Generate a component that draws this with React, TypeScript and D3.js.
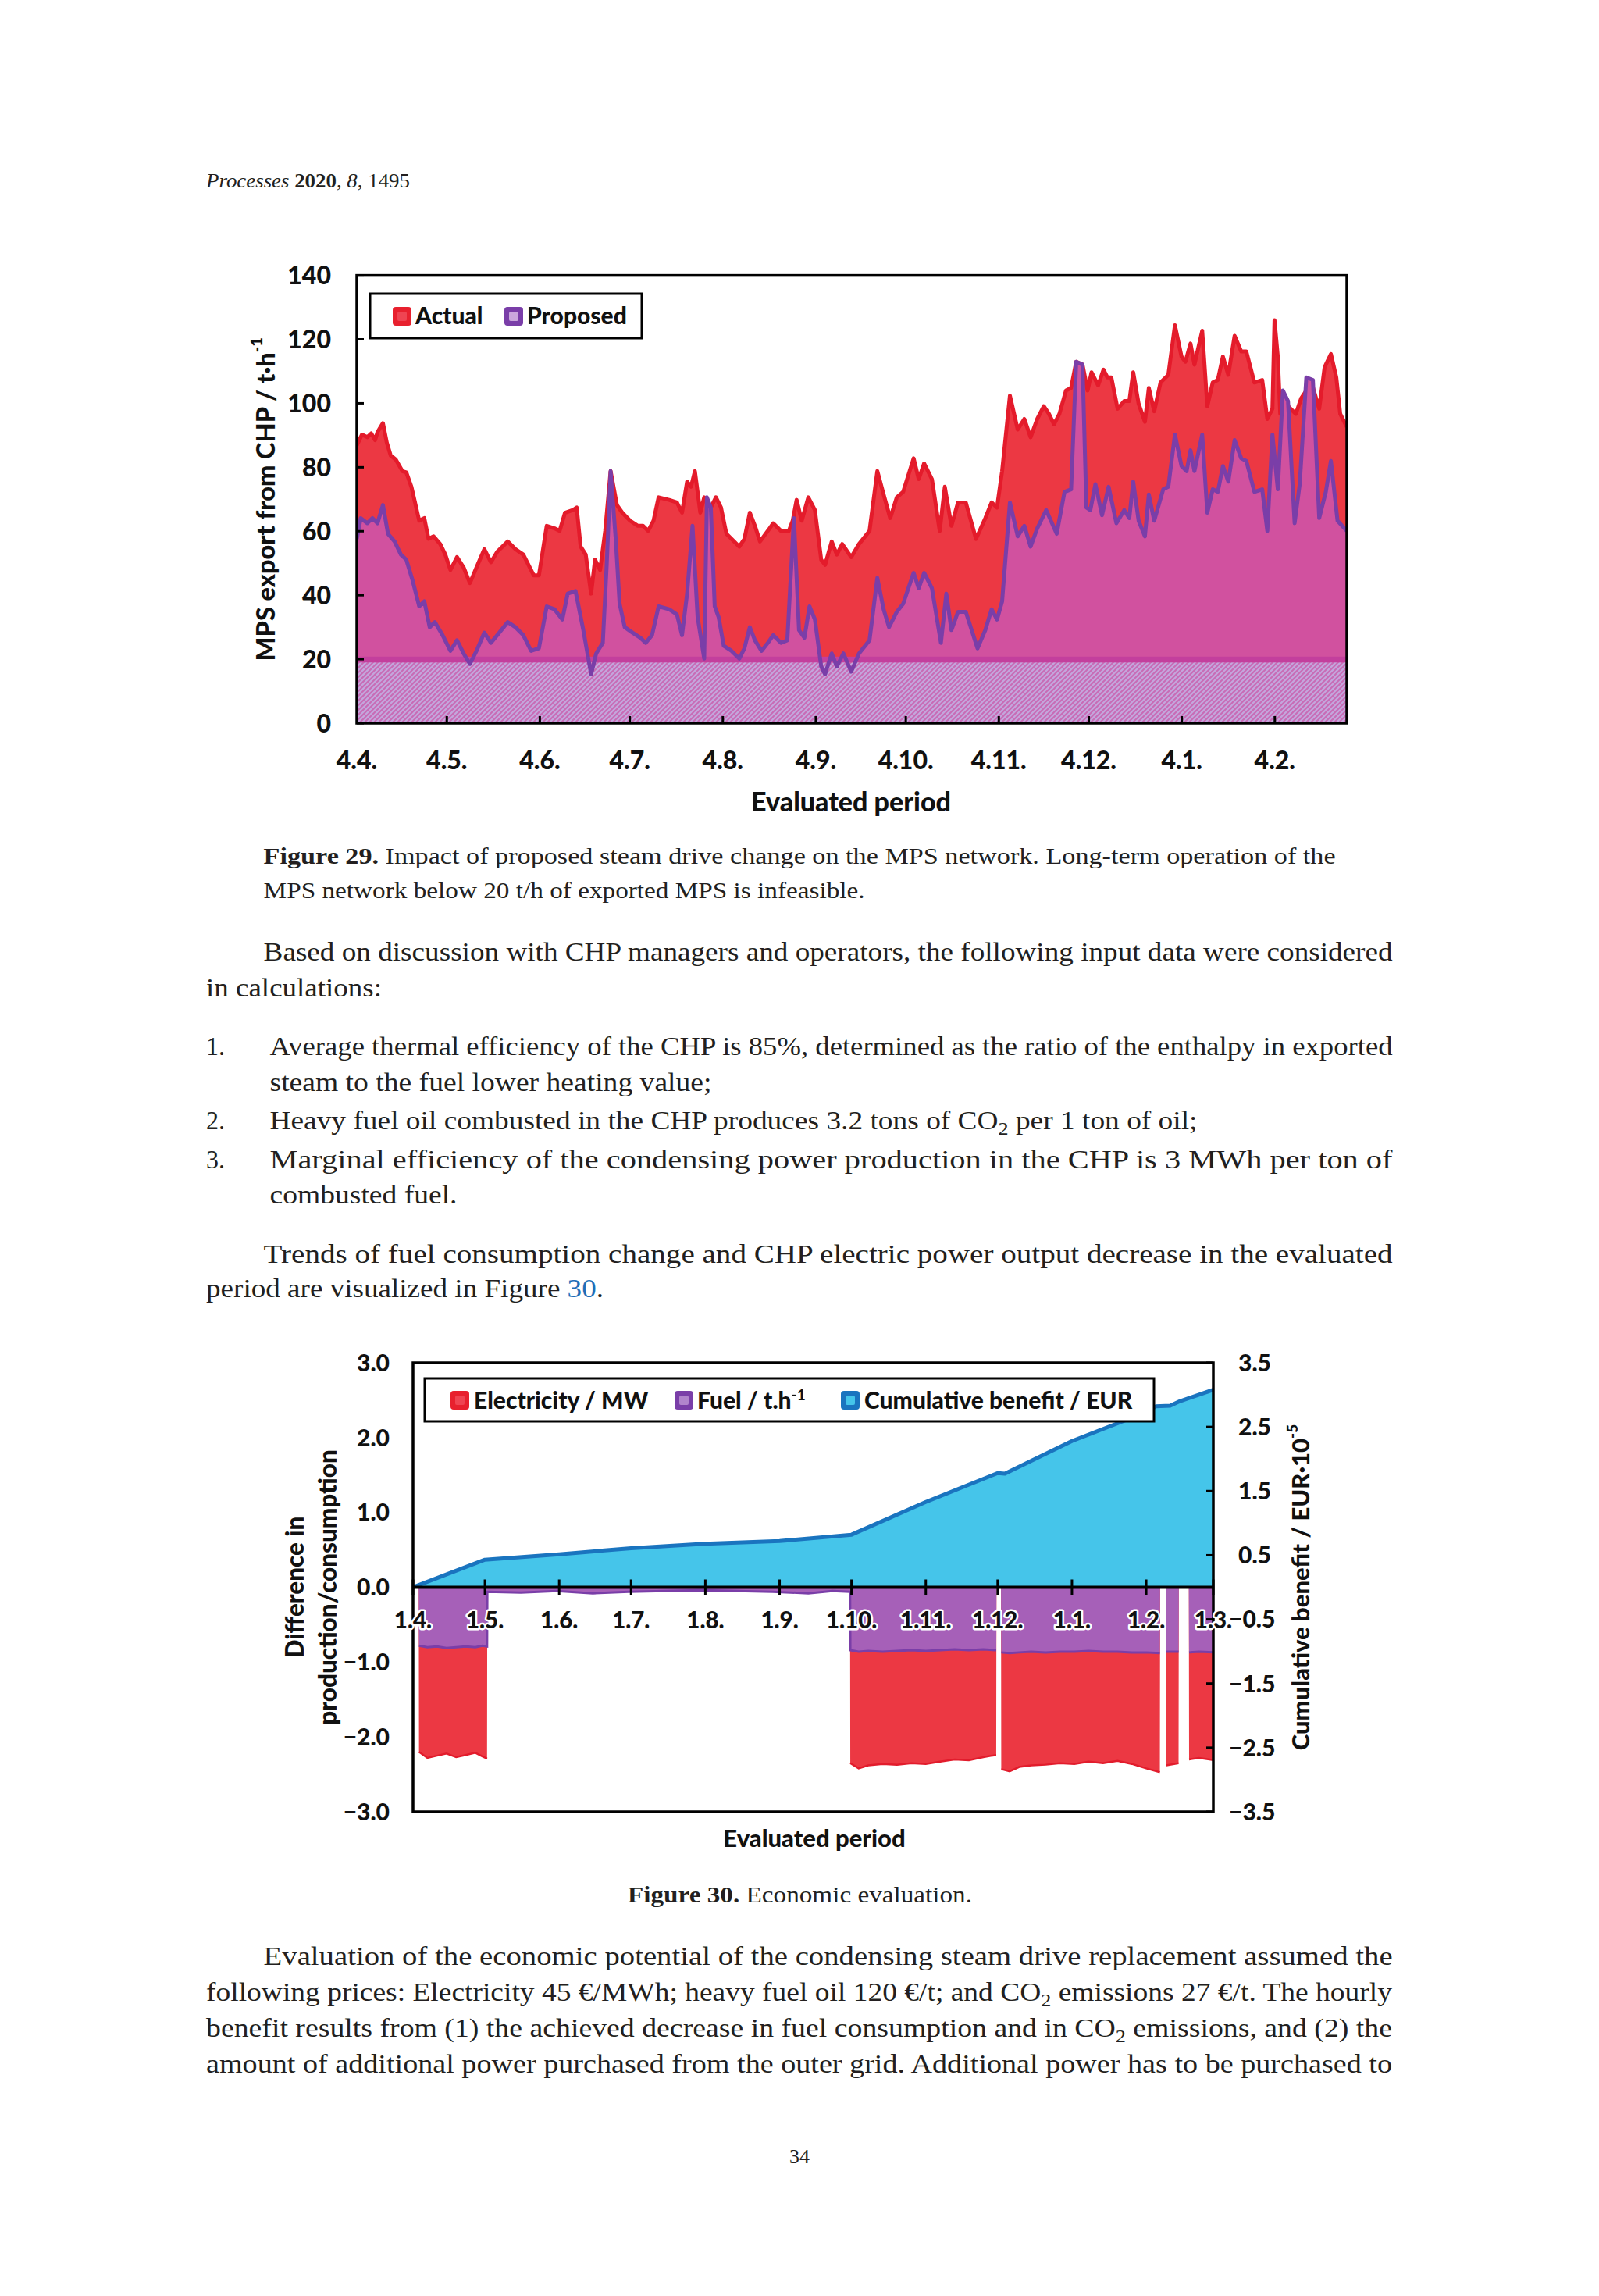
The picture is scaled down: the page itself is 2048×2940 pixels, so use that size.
import React from 'react';
import * as d3 from 'd3';

// ---------------- Figure 29 data ----------------
const fig29Start = new Date(2018, 3, 4);
const fig29SpanDays = 330;
const fig29YTicks = [0, 20, 40, 60, 80, 100, 120, 140];
const fig29XTickLabels = ['4.4.', '4.5.', '4.6.', '4.7.', '4.8.', '4.9.', '4.10.', '4.11.', '4.12.', '4.1.', '4.2.'];
const infeasibleLimit = 20;

// [day since 4.4., t/h]
const actualSeries: [number, number][] = [
  [0, 86.9], [1.7, 90.2], [3.5, 89.4], [4.8, 90.6], [6.1, 88.5], [6.9, 91], [8.7, 93.8], [10.0, 87.7], [11.3, 83.7], [13.0, 82.4],
  [15.2, 78.8], [16.5, 78.4], [18.2, 73.9], [20.8, 63.3], [22.5, 64.1], [23.9, 57.6], [25.6, 58.4], [27.8, 56], [29.5, 52.7], [31.2, 47.9],
  [33.4, 51.9], [35.6, 48.7], [37.7, 43.8], [39.9, 48.7], [42.5, 54.4], [44.7, 50.3], [46.8, 53.6], [50.3, 56.8], [52.9, 54.4], [55.5, 52.7],
  [59.0, 46.2], [60.7, 46.2], [63.3, 61.7], [65.9, 60.9], [67.6, 60.1], [69.4, 65.8], [72.0, 66.6], [73.3, 67.4], [74.6, 55.2], [76.3, 52.7],
  [78.1, 40.5], [79.4, 51.1], [81.1, 47.9], [82.8, 60.1], [84.6, 78.8], [86.7, 68.2], [88.5, 65.8], [91.1, 63.3], [93.7, 61.7], [95.4, 61.7],
  [97.1, 60.1], [98.9, 63.3], [100.6, 70.6], [104.1, 69.8], [106.7, 69], [108.4, 65.8], [110.1, 75.5], [111.4, 73.9], [112.7, 78.8], [114.5, 65.8],
  [115.8, 70.6], [118.0, 67.4], [119.7, 70.6], [121.4, 67.4], [123.2, 59.2], [124.9, 57.6], [127.5, 55.2], [129.2, 57.6], [131.0, 65.8], [132.7, 61.7],
  [134.4, 56.8], [137.0, 60.1], [138.8, 62.5], [141.4, 60.1], [144.0, 60.1], [145.3, 63.3], [146.6, 69.8], [148.3, 63.3], [150.5, 70.6], [152.7, 66.6],
  [154.8, 51.1], [156.1, 49.5], [158.3, 56.8], [160.0, 52.7], [161.8, 56], [164.8, 51.9], [167.4, 56], [170.9, 60.1], [173.5, 78.8], [175.6, 71.5],
  [177.8, 64.1], [180.0, 70.6], [182.1, 72.3], [185.6, 82.8], [187.3, 76.3], [189.1, 81.2], [191.7, 76.3], [194.3, 60.1], [196.0, 73.9], [198.2, 61.7],
  [200.4, 69], [203.0, 69], [206.4, 57.6], [209.5, 64.1], [211.6, 69], [213.4, 67.4], [215.1, 78.8], [217.7, 102.4], [220.3, 91.8], [222.5, 95.1],
  [224.6, 89.4], [226.8, 95.1], [229.0, 99.1], [230.7, 96.7], [232.4, 93.4], [234.2, 96.7], [236.4, 104], [238.1, 104.8], [239.8, 113], [241.9, 112.1],
  [243.6, 104], [244.9, 109.7], [247.1, 105.6], [248.9, 110.5], [250.2, 108.1], [251.5, 108.1], [253.6, 98.3], [255.8, 100.7], [257.5, 100.7], [258.8, 109.7],
  [260.6, 99.9], [262.7, 94.2], [264.0, 104.8], [265.8, 97.5], [267.9, 106.5], [270.5, 108.9], [272.7, 124.4], [274.9, 114.6], [276.2, 113], [277.9, 118.7],
  [279.2, 112.1], [281.8, 122.7], [283.5, 99.1], [285.3, 106.5], [287.0, 107.3], [288.7, 114.6], [290.5, 108.9], [292.6, 121.1], [294.8, 116.2], [296.5, 116.2],
  [299.2, 106.5], [301.8, 107.3], [303.5, 95.1], [305.2, 98.3], [305.9, 126], [307.0, 114.6], [307.8, 96.7], [310.4, 99.1], [313.0, 96.7], [314.8, 101.6],
  [316.5, 104], [318.2, 106.5], [320.8, 98.3], [322.6, 111.3], [324.7, 115.4], [326.5, 108.1], [327.8, 96.7], [330.0, 92.6],
];

const proposedSeries: [number, number][] = [
  [0, 57.6], [1.3, 64.1], [3.5, 62.5], [5.2, 64.1], [6.9, 62.5], [8.7, 68.2], [10.4, 59.2], [12.6, 56.8], [14.7, 52.7], [16.5, 51.1],
  [18.6, 44.6], [20.8, 36.5], [22.5, 38.1], [24.3, 30], [26.0, 31.6], [28.6, 27.5], [31.2, 22.6], [33.4, 25.9], [35.6, 21.8], [37.7, 18.5],
  [39.9, 22.6], [42.5, 28.3], [44.7, 25.1], [46.8, 27.5], [50.3, 31.6], [52.9, 30], [55.5, 27.5], [58.1, 22.6], [60.7, 23.4], [63.3, 36.5],
  [65.9, 35.6], [68.5, 32.4], [70.3, 40.5], [72.9, 41.3], [75.5, 29.1], [78.1, 15.3], [79.8, 21.8], [82.0, 25.1], [83.3, 49.5], [84.6, 78.8],
  [86.3, 57.6], [87.6, 37.3], [89.3, 30], [91.9, 28.3], [94.5, 26.7], [96.3, 25.1], [98.4, 27.5], [100.6, 36.5], [104.1, 35.6], [106.7, 34],
  [108.4, 27.5], [110.1, 40.5], [111.9, 61.7], [113.6, 33.2], [115.8, 20.2], [116.7, 70.6], [118.0, 67.4], [119.3, 36.5], [120.6, 33.2], [122.3, 24.2],
  [124.9, 22.6], [127.5, 20.2], [129.2, 23.4], [131.0, 30], [132.7, 25.9], [134.9, 22.6], [137.0, 25.1], [138.8, 27.5], [141.4, 25.1], [143.5, 25.9],
  [145.7, 64.1], [147.4, 29.1], [149.2, 26.7], [150.9, 36.5], [152.7, 32.4], [154.8, 17.7], [156.1, 15.3], [158.3, 21.8], [160.0, 17.7], [162.2, 21.8],
  [164.8, 16.1], [167.4, 21.8], [170.9, 25.9], [173.5, 45.4], [175.6, 35.6], [177.4, 30], [180.0, 34.8], [182.1, 37.3], [185.6, 47], [187.3, 42.2],
  [189.1, 47], [191.7, 42.2], [194.7, 25.1], [196.5, 40.5], [198.2, 29.1], [200.4, 34.8], [203.0, 34.8], [206.9, 23.4], [209.5, 29.1], [211.6, 35.6],
  [213.4, 32.4], [215.1, 38.1], [217.7, 69], [220.3, 58.4], [222.5, 61.7], [224.6, 55.2], [226.8, 60.9], [229.8, 66.6], [233.3, 59.2], [235.9, 72.3],
  [238.1, 73.1], [239.8, 113], [241.9, 112.1], [243.2, 67.4], [244.5, 66.6], [246.2, 74.7], [248.4, 65], [250.6, 73.9], [253.2, 62.5], [255.8, 66.6],
  [257.5, 64.1], [258.8, 75.5], [260.6, 63.3], [262.7, 58.4], [264.0, 71.5], [265.8, 63.3], [268.8, 73.1], [270.5, 73.9], [272.7, 90.2], [274.9, 80.4],
  [276.6, 78.8], [277.9, 85.3], [279.2, 78.8], [281.8, 90.2], [283.5, 65.8], [285.3, 73.1], [287.0, 72.3], [288.7, 80.4], [290.5, 75.5], [292.6, 88.5],
  [294.8, 82.8], [296.5, 82], [299.2, 72.3], [301.8, 73.1], [303.5, 60.1], [305.2, 90.2], [307.0, 73.1], [308.7, 104], [310.4, 100.7], [312.6, 62.5],
  [314.3, 74.7], [316.5, 108.1], [318.7, 107.3], [320.8, 64.1], [323.0, 72.3], [324.7, 82], [326.9, 63.3], [330.0, 60.1],
];

// ---------------- Figure 30 data ----------------
const fig30Start = new Date(2018, 3, 1);
const fig30SpanDays = 334;
const fig30XTickLabels = ['1.4.', '1.5.', '1.6.', '1.7.', '1.8.', '1.9.', '1.10.', '1.11.', '1.12.', '1.1.', '1.2.', '1.3.'];
const fig30LeftTicks = [3, 2, 1, 0, -1, -2, -3];
const fig30RightTicks = [3.5, 2.5, 1.5, 0.5, -0.5, -1.5, -2.5, -3.5];

// [day since 1.4., MW]
const electricitySeries: [number, number][] = [
  [0, 0], [2.4, 0], [2.5, -2.2], [6, -2.28], [10, -2.25], [14, -2.22], [18, -2.27], [22, -2.24], [26, -2.21], [29, -2.26], [30.9, -2.29], [31, 0],
  [182.4, 0], [182.5, -2.35], [186, -2.42], [190, -2.38], [196, -2.36], [202, -2.37], [208, -2.35], [214, -2.36], [220, -2.33], [226, -2.3],
  [232, -2.31], [238, -2.27], [243.4, -2.24], [243.5, 0], [245.4, 0], [245.5, -2.43], [249, -2.46], [253, -2.4], [258, -2.38], [264, -2.37],
  [270, -2.35], [276, -2.36], [282, -2.33], [288, -2.35], [294, -2.32], [300, -2.36], [306, -2.42], [311.7, -2.47], [311.8, 0], [314.3, 0],
  [314.4, -2.38], [319.5, -2.35], [319.6, 0], [323.8, 0], [323.9, -2.3], [328, -2.28], [334, -2.31],
];
// [day since 1.4., t/h]
const fuelSeries: [number, number][] = [
  [0, 0], [2.4, 0], [2.5, -0.78], [6, -0.8], [10, -0.79], [14, -0.81], [18, -0.8], [22, -0.79], [26, -0.8], [29, -0.78], [30.9, -0.79],
  [31, -0.06], [45, -0.07], [60, -0.05], [75, -0.08], [90, -0.06], [105, -0.05], [120, -0.04], [135, -0.05], [150, -0.06], [165, -0.08],
  [175, -0.05], [182.4, -0.06], [182.5, -0.84], [186, -0.86], [190, -0.85], [196, -0.86], [202, -0.85], [208, -0.84], [214, -0.85],
  [220, -0.84], [226, -0.83], [232, -0.84], [238, -0.83], [243.4, -0.84], [243.5, 0], [245.4, 0], [245.5, -0.87], [249, -0.88], [253, -0.87],
  [258, -0.86], [264, -0.87], [270, -0.86], [276, -0.86], [282, -0.85], [288, -0.86], [294, -0.86], [300, -0.87], [306, -0.87], [311.7, -0.88],
  [311.8, 0], [314.3, 0], [314.4, -0.86], [319.5, -0.86], [319.6, 0], [323.8, 0], [323.9, -0.87], [328, -0.86], [334, -0.87],
];
// [day since 1.4., EUR x 1e5]
const cumulativeSeries: [number, number][] = [
  [0, 0], [30, 0.43], [61, 0.515], [91, 0.61], [122, 0.68], [153, 0.72], [183, 0.82], [214, 1.33], [244, 1.78], [247, 1.77],
  [275, 2.28], [306, 2.73], [310, 2.82], [316, 2.83], [320, 2.9], [334, 3.08],
];

const dayToDate = (start: Date, d: number) => new Date(start.getTime() + d * 86400000);

const SERIF = "'Liberation Serif', 'DejaVu Serif', serif";
const SANS = "Lato, 'Open Sans', sans-serif";
const INK = '#231f20';
const CW = 900;

function TLine({ x, y, w, size = 33, anchor = 'start', children }: any) {
  return (
    <text x={x} y={y} fontFamily={SERIF} fontSize={size} fill={INK} textAnchor={anchor}
      textLength={w} lengthAdjust="spacingAndGlyphs">{children}</text>
  );
}

export default function App() {
  // ---- fig 29 scales
  const x29 = d3.scaleTime().domain([fig29Start, dayToDate(fig29Start, fig29SpanDays)]).range([457, 1725]);
  const y29 = d3.scaleLinear().domain([0, 140]).range([926, 352.6]);
  const fx29 = (d: [number, number]) => x29(dayToDate(fig29Start, d[0]));
  const area29 = d3.area<[number, number]>().x(fx29).y0(y29(0)).y1((d) => y29(d[1]));
  const line29 = d3.line<[number, number]>().x(fx29).y((d) => y29(d[1]));
  const fig29TickDates = fig29XTickLabels.map((_, i) => new Date(2018, 3 + i, 4));

  // ---- fig 30 scales
  const x30 = d3.scaleTime().domain([fig30Start, dayToDate(fig30Start, fig30SpanDays)]).range([529, 1554]);
  const yL = d3.scaleLinear().domain([-3, 3]).range([2320, 1745]);
  const yR = d3.scaleLinear().domain([-3.5, 3.5]).range([2320, 1745]);
  const fx30 = (d: [number, number]) => x30(dayToDate(fig30Start, d[0]));
  const areaL = d3.area<[number, number]>().x(fx30).y0(yL(0)).y1((d) => yL(d[1]));
  const lineL = d3.line<[number, number]>().x(fx30).y((d) => yL(d[1])).defined((d) => d[1] !== 0);
  const areaR = d3.area<[number, number]>().x(fx30).y0(yR(0)).y1((d) => yR(d[1]));
  const lineR = d3.line<[number, number]>().x(fx30).y((d) => yR(d[1]));
  const fig30TickDates = fig30XTickLabels.map((_, i) => new Date(2018, 3 + i, 1));

  const p29 = { l: 457, r: 1725, t: 352.6, b: 926 };
  const p30 = { l: 529, r: 1554, t: 1745, b: 2320 };
  const fmt = (v: number) => d3.format('.1f')(v).replace('-', '\u2212');

  return (
    <svg width={2048} height={2940} viewBox="0 0 2048 2940"
      style={{ position: 'absolute', left: 0, top: 0, background: '#ffffff' }}>
      <defs>
        <pattern id="hatch" width="6" height="6" patternUnits="userSpaceOnUse">
          <rect width="6" height="6" fill="#c4a6dd" />
          <path d="M-1,1 L1,-1 M0,6 L6,0 M5,7 L7,5" stroke="#c86bb5" strokeWidth="2" />
        </pattern>
        <clipPath id="clip29"><rect x={p29.l} y={p29.t} width={p29.r - p29.l} height={p29.b - p29.t} /></clipPath>
        <clipPath id="clip30"><rect x={p30.l} y={p30.t} width={p30.r - p30.l} height={p30.b - p30.t} /></clipPath>
      </defs>
      <rect x={0} y={0} width={2048} height={2940} fill="#ffffff" />

      {/* Header */}
      <text x={264} y={240} fontFamily={SERIF} fontSize={26} fill={INK} textLength={261} lengthAdjust="spacingAndGlyphs">
        <tspan fontStyle="italic">Processes</tspan> <tspan fontWeight="bold">2020</tspan>, <tspan fontStyle="italic">8</tspan>, 1495
      </text>

      {/* ================= Figure 29 ================= */}
      <g clipPath="url(#clip29)">
        <path d={area29(actualSeries) || ''} fill="#ec3843" />
        <path d={line29(actualSeries) || ''} fill="none" stroke="#e41b2b" strokeWidth={5} strokeLinejoin="round" />
        <path d={area29(proposedSeries) || ''} fill="#d1519f" />
        <rect x={p29.l} y={y29(19)} width={p29.r - p29.l} height={y29(0) - y29(19)} fill="url(#hatch)" />
        <rect x={p29.l} y={y29(infeasibleLimit + 0.8)} width={p29.r - p29.l} height={y29(19) - y29(infeasibleLimit + 0.8)} fill="#c33f9d" />
        <path d={line29(proposedSeries) || ''} fill="none" stroke="#7a3ea8" strokeWidth={5} strokeLinejoin="round" />
      </g>
      {fig29YTicks.map((v) => (
        <line key={'yt' + v} x1={p29.l} x2={p29.l + 9} y1={y29(v)} y2={y29(v)} stroke="#000" strokeWidth={3} />
      ))}
      {fig29TickDates.slice(1).map((d, i) => (
        <line key={'xt' + i} x1={x29(d)} x2={x29(d)} y1={p29.b} y2={p29.b - 9} stroke="#000" strokeWidth={3} />
      ))}
      <rect x={p29.l} y={p29.t} width={p29.r - p29.l} height={p29.b - p29.t} fill="none" stroke="#000" strokeWidth={3.5} />
      {fig29YTicks.map((v) => (
        <text key={'yl' + v} x={424} y={y29(v)} dy="0.36em" textAnchor="end" fontFamily={SANS} fontWeight={CW} fontSize={32} fill="#111">{v}</text>
      ))}
      {fig29TickDates.map((d, i) => (
        <text key={'xl' + i} x={x29(d)} y={985} textAnchor="middle" fontFamily={SANS} fontWeight={CW} fontSize={32} fill="#111">{fig29XTickLabels[i]}</text>
      ))}
      <text x={1090} y={1039} textAnchor="middle" fontFamily={SANS} fontWeight={CW} fontSize={34} fill="#111">Evaluated period</text>
      <text transform={`translate(339,${(p29.t + p29.b) / 2}) rotate(-90)`} textAnchor="middle" dominantBaseline="central"
        fontFamily={SANS} fontWeight={CW} fontSize={32.5} fill="#111">
        MPS export from CHP / t·h<tspan dy={-11} fontSize={20}>-1</tspan>
      </text>
      {/* legend */}
      <rect x={474} y={376} width={348} height={57} fill="#fff" stroke="#000" strokeWidth={3} />
      <rect x={503} y={393} width={24} height={24} rx={4} fill="#e8202e" />
      <rect x={509} y={399} width={12} height={12} rx={2} fill="#ef4452" />
      <text x={532} y={415} fontFamily={SANS} fontWeight={CW} fontSize={30} fill="#111">Actual</text>
      <rect x={646} y={393} width={24} height={24} rx={4} fill="#7a3ea8" />
      <rect x={652} y={399} width={12} height={12} rx={2} fill="#caa7dc" />
      <text x={675} y={415} fontFamily={SANS} fontWeight={CW} fontSize={30} fill="#111">Proposed</text>

      {/* Caption 29 */}
      <text x={337.6} y={1106} fontFamily={SERIF} fontSize={30} fill={INK} textLength={1373} lengthAdjust="spacingAndGlyphs">
        <tspan fontWeight="bold">Figure 29.</tspan> Impact of proposed steam drive change on the MPS network.  Long-term operation of the
      </text>
      <TLine x={337.6} y={1150} w={770} size={30}>MPS network below 20 t/h of exported MPS is infeasible.</TLine>

      {/* Body text */}
      <TLine x={337.6} y={1230} w={1446}>Based on discussion with CHP managers and operators, the following input data were considered</TLine>
      <TLine x={264} y={1276} w={225}>in calculations:</TLine>
      <TLine x={264} y={1351} w={24}>1.</TLine>
      <TLine x={345.5} y={1351} w={1438}>Average thermal efficiency of the CHP is 85%, determined as the ratio of the enthalpy in exported</TLine>
      <TLine x={345.5} y={1397} w={566}>steam to the fuel lower heating value;</TLine>
      <TLine x={264} y={1446} w={24}>2.</TLine>
      <text x={345.5} y={1446} fontFamily={SERIF} fontSize={33} fill={INK} textLength={1188} lengthAdjust="spacingAndGlyphs">
        Heavy fuel oil combusted in the CHP produces 3.2 tons of CO<tspan dy={7} fontSize={23}>2</tspan><tspan dy={-7}> per 1 ton of oil;</tspan>
      </text>
      <TLine x={264} y={1496} w={24}>3.</TLine>
      <TLine x={345.5} y={1496} w={1438}>Marginal efficiency of the condensing power production in the CHP is 3 MWh per ton of</TLine>
      <TLine x={345.5} y={1541} w={240}>combusted fuel.</TLine>
      <TLine x={337.6} y={1617} w={1446}>Trends of fuel consumption change and CHP electric power output decrease in the evaluated</TLine>
      <text x={264} y={1661} fontFamily={SERIF} fontSize={33} fill={INK} textLength={509} lengthAdjust="spacingAndGlyphs">
        period are visualized in Figure <tspan fill="#1f6fb8">30</tspan>.
      </text>

      {/* ================= Figure 30 ================= */}
      <g clipPath="url(#clip30)">
        <path d={areaR(cumulativeSeries) || ''} fill="#45c5ea" />
        <path d={lineR(cumulativeSeries) || ''} fill="none" stroke="#1a74bf" strokeWidth={5} strokeLinejoin="round" />
        <path d={areaL(electricitySeries) || ''} fill="#ec3843" />
        <path d={lineL(electricitySeries) || ''} fill="none" stroke="#e21c2c" strokeWidth={2.5} />
        <path d={areaL(fuelSeries) || ''} fill="#a660b8" />
        <path d={lineL(fuelSeries) || ''} fill="none" stroke="#7a3ea8" strokeWidth={3} />
      </g>
      <line x1={p30.l} x2={p30.r} y1={yL(0)} y2={yL(0)} stroke="#000" strokeWidth={4} />
      {fig30TickDates.map((d, i) => (
        <line key={'t30' + i} x1={x30(d)} x2={x30(d)} y1={yL(0) - 10} y2={yL(0) + 10} stroke="#000" strokeWidth={3} />
      ))}
      {fig30RightTicks.map((v) => (
        <line key={'rt' + v} x1={p30.r - 9} x2={p30.r} y1={yR(v)} y2={yR(v)} stroke="#000" strokeWidth={3} />
      ))}
      <rect x={p30.l} y={p30.t} width={p30.r - p30.l} height={p30.b - p30.t} fill="none" stroke="#000" strokeWidth={3.5} />
      {fig30TickDates.map((d, i) => (
        <text key={'xl30' + i} x={x30(d)} y={2085} textAnchor="middle" fontFamily={SANS} fontWeight={CW} fontSize={29.5}
          fill="#111" stroke="#fff" strokeWidth={5} paintOrder="stroke" strokeLinejoin="round">{fig30XTickLabels[i]}</text>
      ))}
      {fig30LeftTicks.map((v) => (
        <text key={'ll' + v} x={499} y={yL(v)} dy="0.36em" textAnchor="end" fontFamily={SANS} fontWeight={CW} fontSize={30} fill="#111">
          {fmt(v)}
        </text>
      ))}
      {fig30RightTicks.map((v) => (
        <text key={'rl' + v} x={v < 0 ? 1574 : 1586} y={yR(v)} dy="0.36em" textAnchor="start" fontFamily={SANS} fontWeight={CW} fontSize={30} fill="#111">
          {fmt(v)}
        </text>
      ))}
      <text x={1043} y={2365} textAnchor="middle" fontFamily={SANS} fontWeight={CW} fontSize={31} fill="#111">Evaluated period</text>
      <text transform={`translate(377,${(p30.t + p30.b) / 2}) rotate(-90)`} textAnchor="middle" dominantBaseline="central"
        fontFamily={SANS} fontWeight={CW} fontSize={31.5} fill="#111">Difference in</text>
      <text transform={`translate(419,${(p30.t + p30.b) / 2}) rotate(-90)`} textAnchor="middle" dominantBaseline="central"
        fontFamily={SANS} fontWeight={CW} fontSize={31.5} fill="#111">production/consumption</text>
      <text transform={`translate(1665,${(p30.t + p30.b) / 2}) rotate(-90)`} textAnchor="middle" dominantBaseline="central"
        fontFamily={SANS} fontWeight={CW} fontSize={31} fill="#111">
        Cumulative benefit / EUR·10<tspan dy={-11} fontSize={19}>-5</tspan>
      </text>
      {/* legend 30 */}
      <rect x={544} y={1765} width={934} height={55} fill="#fff" stroke="#000" strokeWidth={3} />
      <rect x={577} y={1781} width={24} height={24} rx={4} fill="#e8202e" />
      <rect x={583} y={1787} width={12} height={12} rx={2} fill="#ef4452" />
      <text x={607} y={1804} fontFamily={SANS} fontWeight={CW} fontSize={30} fill="#111">Electricity / MW</text>
      <rect x={864} y={1781} width={24} height={24} rx={4} fill="#7a3ea8" />
      <rect x={870} y={1787} width={12} height={12} rx={2} fill="#b184cc" />
      <text x={893} y={1804} fontFamily={SANS} fontWeight={CW} fontSize={30} fill="#111">
        Fuel / t.h<tspan dy={-11} fontSize={19}>-1</tspan>
      </text>
      <rect x={1077} y={1781} width={24} height={24} rx={4} fill="#1a74bf" />
      <rect x={1083} y={1787} width={12} height={12} rx={2} fill="#45c5ea" />
      <text x={1107} y={1804} fontFamily={SANS} fontWeight={CW} fontSize={30} fill="#111">Cumulative benefit / EUR</text>

      {/* Caption 30 */}
      <text x={804} y={2436} fontFamily={SERIF} fontSize={30} fill={INK} textLength={441} lengthAdjust="spacingAndGlyphs">
        <tspan fontWeight="bold">Figure 30.</tspan> Economic evaluation.
      </text>

      <TLine x={337.6} y={2516} w={1446}>Evaluation of the economic potential of the condensing steam drive replacement assumed the</TLine>
      <text x={264} y={2562} fontFamily={SERIF} fontSize={33} fill={INK} textLength={1519} lengthAdjust="spacingAndGlyphs">
        following prices: Electricity 45 €/MWh; heavy fuel oil 120 €/t; and CO<tspan dy={7} fontSize={23}>2</tspan><tspan dy={-7}> emissions 27 €/t.  The hourly</tspan>
      </text>
      <text x={264} y={2608} fontFamily={SERIF} fontSize={33} fill={INK} textLength={1519} lengthAdjust="spacingAndGlyphs">
        benefit results from (1) the achieved decrease in fuel consumption and in CO<tspan dy={7} fontSize={23}>2</tspan><tspan dy={-7}> emissions, and (2) the</tspan>
      </text>
      <TLine x={264} y={2654} w={1519}>amount of additional power purchased from the outer grid.  Additional power has to be purchased to</TLine>
      <text x={1024} y={2770} textAnchor="middle" fontFamily={SERIF} fontSize={26} fill={INK}>34</text>
    </svg>
  );
}
